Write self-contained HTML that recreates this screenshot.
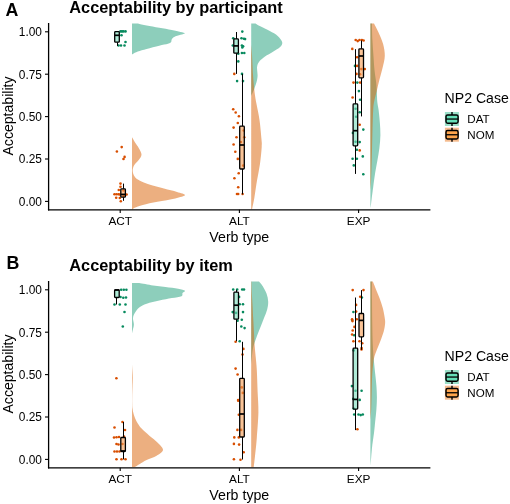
<!DOCTYPE html><html><head><meta charset="utf-8"><style>html,body{margin:0;padding:0;background:#fff;width:510px;height:504px;overflow:hidden}svg{display:block;filter:blur(0.35px)}</style></head><body>
<svg width="510" height="504" viewBox="0 0 510 504" font-family='"Liberation Sans", sans-serif' fill="#000">
<rect width="510" height="504" fill="#fff"/>
<path d="M132.00,23.45 L138.00,23.45 C139.43,23.81 143.07,24.88 146.60,25.60 C150.13,26.33 155.02,27.07 159.20,27.80 C163.38,28.53 168.15,29.32 171.70,30.00 C175.25,30.68 178.28,31.37 180.50,31.90 C182.72,32.43 185.00,32.72 185.00,33.20 C185.00,33.68 182.30,34.18 180.50,34.80 C178.70,35.42 175.67,36.13 174.20,36.90 C172.73,37.67 172.22,38.55 171.70,39.40 C171.18,40.25 171.72,41.27 171.10,42.00 C170.48,42.73 169.98,43.18 168.00,43.80 C166.02,44.42 162.77,44.85 159.20,45.70 C155.63,46.55 150.17,47.95 146.60,48.90 C143.03,49.85 140.10,50.57 137.80,51.40 C135.50,52.23 133.77,53.37 132.80,53.90 C131.83,54.43 132.13,54.48 132.00,54.60 L132.00,54.60 Z" fill="rgba(27,158,119,0.5)"/>
<path d="M251.20,23.45 L255.50,23.45 C256.30,23.93 257.92,25.02 260.30,26.30 C262.68,27.58 266.90,29.50 269.80,31.10 C272.70,32.70 275.63,34.05 277.70,35.90 C279.77,37.75 281.80,40.35 282.20,42.20 C282.60,44.05 281.63,45.42 280.10,47.00 C278.57,48.58 275.52,50.12 273.00,51.70 C270.48,53.28 267.25,54.90 265.00,56.50 C262.75,58.10 260.80,59.72 259.50,61.30 C258.20,62.88 257.58,64.42 257.20,66.00 C256.82,67.58 257.13,69.20 257.20,70.80 C257.27,72.40 257.63,74.02 257.60,75.60 C257.57,77.18 257.33,78.72 257.00,80.30 C256.67,81.88 256.05,83.70 255.60,85.10 C255.15,86.50 254.78,87.47 254.30,88.70 C253.82,89.93 253.22,91.33 252.70,92.50 C252.18,93.67 251.45,95.17 251.20,95.70 L251.20,95.70 Z" fill="rgba(27,158,119,0.5)"/>
<path d="M370.40,23.45 L371.90,23.45 C371.98,26.21 372.15,34.74 372.40,40.00 C372.65,45.26 373.05,50.00 373.40,55.00 C373.75,60.00 374.05,65.50 374.50,70.00 C374.95,74.50 375.72,78.50 376.10,82.00 C376.48,85.50 376.60,87.67 376.80,91.00 C377.00,94.33 377.00,98.83 377.30,102.00 C377.60,105.17 378.18,106.67 378.60,110.00 C379.02,113.33 379.50,117.83 379.80,122.00 C380.10,126.17 380.47,130.67 380.40,135.00 C380.33,139.33 379.90,143.73 379.40,148.00 C378.90,152.27 378.12,156.40 377.40,160.60 C376.68,164.80 375.80,168.82 375.10,173.20 C374.40,177.58 373.78,182.57 373.20,186.90 C372.62,191.23 372.02,195.92 371.60,199.20 C371.18,202.48 370.90,205.22 370.70,206.60 C370.50,207.98 370.45,207.35 370.40,207.50 L370.40,207.50 Z" fill="rgba(27,158,119,0.5)"/>
<path d="M132.00,137.30 L132.00,137.30 C132.57,138.25 134.28,141.23 135.40,143.00 C136.52,144.77 137.68,146.00 138.70,147.90 C139.72,149.80 141.50,152.37 141.50,154.40 C141.50,156.43 139.90,158.33 138.70,160.10 C137.50,161.87 135.30,163.23 134.30,165.00 C133.30,166.77 132.65,168.80 132.70,170.70 C132.75,172.60 133.47,174.77 134.60,176.40 C135.73,178.03 137.05,179.13 139.50,180.50 C141.95,181.87 145.23,183.25 149.30,184.60 C153.37,185.95 159.28,187.38 163.90,188.60 C168.52,189.82 173.47,190.82 177.00,191.90 C180.53,192.98 185.38,194.02 185.10,195.10 C184.82,196.18 179.92,197.30 175.30,198.40 C170.68,199.50 162.82,200.62 157.40,201.70 C151.98,202.78 146.60,203.88 142.80,204.90 C139.00,205.92 136.27,207.08 134.60,207.80 C132.93,208.52 133.10,208.97 132.80,209.20 L132.00,209.20 Z" fill="rgba(217,95,2,0.5)"/>
<path d="M251.20,45.00 L251.20,45.00 C251.33,46.67 251.70,50.03 252.00,55.00 C252.30,59.97 252.63,69.18 253.00,74.80 C253.37,80.42 253.83,85.05 254.20,88.70 C254.57,92.35 254.78,93.98 255.20,96.70 C255.62,99.42 255.98,101.12 256.70,105.00 C257.42,108.88 258.70,114.27 259.50,120.00 C260.30,125.73 261.13,134.90 261.50,139.40 C261.87,143.90 261.95,142.95 261.70,147.00 C261.45,151.05 260.78,158.10 260.00,163.70 C259.22,169.30 257.93,174.97 257.00,180.60 C256.07,186.23 255.20,192.87 254.40,197.50 C253.60,202.13 252.60,206.45 252.20,208.40 C251.80,210.35 252.03,209.07 252.00,209.20 L251.20,209.20 Z" fill="rgba(217,95,2,0.5)"/>
<path d="M370.40,23.45 L374.00,23.45 C374.72,24.86 376.78,28.49 378.30,31.90 C379.82,35.31 382.02,39.92 383.10,43.90 C384.18,47.88 384.88,51.83 384.80,55.80 C384.72,59.77 383.50,63.72 382.60,67.70 C381.70,71.68 380.37,75.87 379.40,79.70 C378.43,83.53 377.68,87.02 376.80,90.70 C375.92,94.38 374.70,98.58 374.10,101.80 C373.50,105.02 373.45,106.13 373.20,110.00 C372.95,113.87 372.80,118.33 372.60,125.00 C372.40,131.67 372.20,142.50 372.00,150.00 C371.80,157.50 371.57,164.67 371.40,170.00 C371.23,175.33 371.17,178.67 371.00,182.00 C370.83,185.33 370.50,188.67 370.40,190.00 L370.40,190.00 Z" fill="rgba(217,95,2,0.5)"/>
<g fill="#078a5e"><circle cx="120.5" cy="31.4" r="1.3"/><circle cx="122" cy="31.4" r="1.3"/><circle cx="123.5" cy="31.4" r="1.3"/><circle cx="125.5" cy="31.4" r="1.3"/><circle cx="121.5" cy="35.3" r="1.3"/><circle cx="125.5" cy="42" r="1.3"/><circle cx="118.5" cy="45.5" r="1.3"/><circle cx="121" cy="45.5" r="1.3"/><circle cx="124.5" cy="45.5" r="1.3"/><circle cx="242.3" cy="31.6" r="1.3"/><circle cx="241.5" cy="38.3" r="1.3"/><circle cx="243.9" cy="38.7" r="1.3"/><circle cx="245.1" cy="39.1" r="1.3"/><circle cx="233.2" cy="38.3" r="1.3"/><circle cx="241.9" cy="45.5" r="1.3"/><circle cx="243.1" cy="46.3" r="1.3"/><circle cx="242.3" cy="47.5" r="1.3"/><circle cx="232.8" cy="45.5" r="1.3"/><circle cx="241.9" cy="53" r="1.3"/><circle cx="244.3" cy="53" r="1.3"/><circle cx="238.3" cy="53.8" r="1.3"/><circle cx="238.3" cy="61.4" r="1.3"/><circle cx="242" cy="73.9" r="1.3"/><circle cx="237.1" cy="81.1" r="1.3"/><circle cx="243" cy="81.1" r="1.3"/><circle cx="355" cy="65.9" r="1.3"/><circle cx="357.3" cy="82.6" r="1.3"/><circle cx="358.9" cy="91.1" r="1.3"/><circle cx="360.1" cy="99.8" r="1.3"/><circle cx="359.7" cy="112.3" r="1.3"/><circle cx="355.6" cy="108.8" r="1.3"/><circle cx="356.1" cy="116.8" r="1.3"/><circle cx="363.3" cy="129.6" r="1.3"/><circle cx="352.9" cy="132.9" r="1.3"/><circle cx="359.7" cy="142.1" r="1.3"/><circle cx="355.6" cy="141.8" r="1.3"/><circle cx="356.9" cy="149.8" r="1.3"/><circle cx="352.6" cy="158.8" r="1.3"/><circle cx="356.9" cy="158.8" r="1.3"/><circle cx="362.8" cy="156.4" r="1.3"/><circle cx="353.8" cy="165.4" r="1.3"/><circle cx="363.3" cy="174.3" r="1.3"/></g>
<g fill="#d84e00"><circle cx="121.7" cy="147.1" r="1.3"/><circle cx="116.9" cy="151.5" r="1.3"/><circle cx="124.6" cy="156.9" r="1.3"/><circle cx="123.5" cy="159" r="1.3"/><circle cx="120.5" cy="183.6" r="1.3"/><circle cx="120.5" cy="186.8" r="1.3"/><circle cx="118.8" cy="190" r="1.3"/><circle cx="114.5" cy="194.2" r="1.3"/><circle cx="116.5" cy="194.2" r="1.3"/><circle cx="118.5" cy="194.2" r="1.3"/><circle cx="119.8" cy="194.5" r="1.3"/><circle cx="116.2" cy="197.8" r="1.3"/><circle cx="119.8" cy="198" r="1.3"/><circle cx="120.8" cy="201.3" r="1.3"/><circle cx="126.6" cy="194.5" r="1.3"/><circle cx="123.5" cy="190.5" r="1.3"/><circle cx="123.5" cy="196" r="1.3"/><circle cx="234.3" cy="73.9" r="1.3"/><circle cx="233.2" cy="109.3" r="1.3"/><circle cx="235.7" cy="112.5" r="1.3"/><circle cx="238.9" cy="116.3" r="1.3"/><circle cx="237.8" cy="123" r="1.3"/><circle cx="233.6" cy="127.6" r="1.3"/><circle cx="243.7" cy="130.5" r="1.3"/><circle cx="236.5" cy="137.2" r="1.3"/><circle cx="244.2" cy="137.2" r="1.3"/><circle cx="240.9" cy="142" r="1.3"/><circle cx="233.6" cy="144.5" r="1.3"/><circle cx="235.3" cy="151.8" r="1.3"/><circle cx="237.8" cy="158.9" r="1.3"/><circle cx="243.2" cy="165.6" r="1.3"/><circle cx="238.7" cy="173.2" r="1.3"/><circle cx="234.4" cy="178.3" r="1.3"/><circle cx="238.2" cy="187.2" r="1.3"/><circle cx="237" cy="194" r="1.3"/><circle cx="238.2" cy="194" r="1.3"/><circle cx="242.6" cy="194" r="1.3"/><circle cx="355.7" cy="40" r="1.3"/><circle cx="357.7" cy="41.1" r="1.3"/><circle cx="359.5" cy="40" r="1.3"/><circle cx="361.9" cy="40" r="1.3"/><circle cx="363.6" cy="40.5" r="1.3"/><circle cx="352.3" cy="48.9" r="1.3"/><circle cx="357.1" cy="57.2" r="1.3"/><circle cx="357.1" cy="65.9" r="1.3"/><circle cx="361.3" cy="69.1" r="1.3"/><circle cx="364.8" cy="69.1" r="1.3"/><circle cx="356.5" cy="73.9" r="1.3"/><circle cx="360.1" cy="74.2" r="1.3"/><circle cx="353.5" cy="82.6" r="1.3"/><circle cx="360.1" cy="82.6" r="1.3"/><circle cx="352.6" cy="97.5" r="1.3"/><circle cx="359.7" cy="124.8" r="1.3"/><circle cx="359.7" cy="150.4" r="1.3"/></g>
<line x1="117.5" y1="31.6" x2="117.5" y2="31.6" stroke="#000" stroke-width="1.05"/><line x1="117.5" y1="42.2" x2="117.5" y2="45.9" stroke="#000" stroke-width="1.05"/><rect x="114.70" y="31.60" width="4.6" height="10.60" rx="0.8" fill="rgba(121,222,188,0.6)" stroke="#000" stroke-width="1.3"/><line x1="114.70" y1="35.3" x2="119.30" y2="35.3" stroke="#000" stroke-width="1.7"/>
<line x1="123.5" y1="183.6" x2="123.5" y2="188.8" stroke="#000" stroke-width="1.05"/><line x1="123.5" y1="197.2" x2="123.5" y2="200.8" stroke="#000" stroke-width="1.05"/><rect x="120.80" y="188.80" width="4.6" height="8.40" rx="0.8" fill="rgba(247,155,80,0.6)" stroke="#000" stroke-width="1.3"/><line x1="120.80" y1="194.4" x2="125.40" y2="194.4" stroke="#000" stroke-width="1.7"/>
<line x1="236.5" y1="32.0" x2="236.5" y2="38.9" stroke="#000" stroke-width="1.05"/><line x1="236.5" y1="53.2" x2="236.5" y2="73.9" stroke="#000" stroke-width="1.05"/><rect x="233.80" y="38.90" width="4.6" height="14.30" rx="0.8" fill="rgba(121,222,188,0.6)" stroke="#000" stroke-width="1.3"/><line x1="233.80" y1="45.9" x2="238.40" y2="45.9" stroke="#000" stroke-width="1.7"/>
<line x1="242.5" y1="73.9" x2="242.5" y2="126.1" stroke="#000" stroke-width="1.05"/><line x1="242.5" y1="169.0" x2="242.5" y2="194.3" stroke="#000" stroke-width="1.05"/><rect x="239.70" y="126.10" width="4.6" height="42.90" rx="0.8" fill="rgba(247,155,80,0.6)" stroke="#000" stroke-width="1.3"/><line x1="239.70" y1="145.0" x2="244.30" y2="145.0" stroke="#000" stroke-width="1.7"/>
<line x1="355.5" y1="49.2" x2="355.5" y2="103.9" stroke="#000" stroke-width="1.05"/><line x1="355.5" y1="145.8" x2="355.5" y2="173.9" stroke="#000" stroke-width="1.05"/><rect x="353.10" y="103.90" width="4.6" height="41.90" rx="0.8" fill="rgba(121,222,188,0.6)" stroke="#000" stroke-width="1.3"/><line x1="353.10" y1="130.7" x2="357.70" y2="130.7" stroke="#000" stroke-width="1.7"/>
<line x1="361.5" y1="40.5" x2="361.5" y2="48.8" stroke="#000" stroke-width="1.05"/><line x1="361.5" y1="77.8" x2="361.5" y2="116.4" stroke="#000" stroke-width="1.05"/><rect x="358.90" y="48.80" width="4.6" height="29.00" rx="0.8" fill="rgba(247,155,80,0.6)" stroke="#000" stroke-width="1.3"/><line x1="358.90" y1="56.0" x2="363.50" y2="56.0" stroke="#000" stroke-width="1.7"/>
<line x1="48.6" y1="23.0" x2="48.6" y2="210.45" stroke="#000" stroke-width="1.3"/>
<line x1="47.95" y1="209.8" x2="430.4" y2="209.8" stroke="#000" stroke-width="1.3"/>
<text x="5.6" y="15.6" font-size="17.8" font-weight="bold">A</text><text x="69.3" y="13.2" font-size="16.35" font-weight="bold">Acceptability by participant</text><text x="42" y="36.10" font-size="11.9" text-anchor="end">1.00</text><line x1="45" y1="31.80" x2="48.5" y2="31.80" stroke="#000" stroke-width="1.1"/><text x="42" y="78.50" font-size="11.9" text-anchor="end">0.75</text><line x1="45" y1="74.20" x2="48.5" y2="74.20" stroke="#000" stroke-width="1.1"/><text x="42" y="120.90" font-size="11.9" text-anchor="end">0.50</text><line x1="45" y1="116.60" x2="48.5" y2="116.60" stroke="#000" stroke-width="1.1"/><text x="42" y="163.30" font-size="11.9" text-anchor="end">0.25</text><line x1="45" y1="159.00" x2="48.5" y2="159.00" stroke="#000" stroke-width="1.1"/><text x="42" y="205.70" font-size="11.9" text-anchor="end">0.00</text><line x1="45" y1="201.40" x2="48.5" y2="201.40" stroke="#000" stroke-width="1.1"/><line x1="120.2" y1="209.7" x2="120.2" y2="213.0" stroke="#000" stroke-width="1.1"/><text x="120.2" y="225.2" font-size="11.8" text-anchor="middle">ACT</text><line x1="239.4" y1="209.7" x2="239.4" y2="213.0" stroke="#000" stroke-width="1.1"/><text x="239.4" y="225.2" font-size="11.8" text-anchor="middle">ALT</text><line x1="358.6" y1="209.7" x2="358.6" y2="213.0" stroke="#000" stroke-width="1.1"/><text x="358.6" y="225.2" font-size="11.8" text-anchor="middle">EXP</text><text x="239.3" y="242.0" font-size="14.2" text-anchor="middle">Verb type</text><text transform="translate(12.6,116.0) rotate(-90)" font-size="14.1" text-anchor="middle">Acceptability</text><text x="444.6" y="103.0" font-size="14.1">NP2 Case</text><rect x="444.9" y="112.00" width="14.0" height="14.0" fill="#9adfc8"/><line x1="452" y1="112.00" x2="452" y2="126.00" stroke="#000" stroke-width="1.4"/><rect x="446.0" y="114.90" width="12.1" height="8.3" rx="1.6" fill="#66e0b8" stroke="#000" stroke-width="1.5"/><line x1="446.0" y1="119.05" x2="458.1" y2="119.05" stroke="#000" stroke-width="1.3"/><text x="467.3" y="123.20" font-size="11.6">DAT</text><rect x="444.9" y="127.70" width="14.0" height="14.0" fill="#f5bc8f"/><line x1="452" y1="127.70" x2="452" y2="141.70" stroke="#000" stroke-width="1.4"/><rect x="446.0" y="130.60" width="12.1" height="8.3" rx="1.6" fill="#ffa54d" stroke="#000" stroke-width="1.5"/><line x1="446.0" y1="134.75" x2="458.1" y2="134.75" stroke="#000" stroke-width="1.3"/><text x="467.3" y="138.90" font-size="11.6">NOM</text>
<path d="M132.00,283.10 L139.20,283.10 C141.50,283.50 148.62,284.85 153.00,285.50 C157.38,286.15 161.32,286.47 165.50,287.00 C169.68,287.53 174.85,288.07 178.10,288.70 C181.35,289.33 184.27,290.07 185.00,290.80 C185.73,291.53 183.08,292.20 182.50,293.10 C181.92,294.00 183.28,295.37 181.50,296.20 C179.72,297.03 175.50,297.37 171.80,298.10 C168.10,298.83 163.48,299.67 159.30,300.60 C155.12,301.53 150.05,302.55 146.70,303.70 C143.35,304.85 141.18,305.93 139.20,307.50 C137.22,309.07 135.83,311.32 134.80,313.10 C133.77,314.88 133.15,316.32 133.00,318.20 C132.85,320.08 133.92,322.53 133.90,324.40 C133.88,326.27 133.22,327.93 132.90,329.40 C132.58,330.87 132.15,332.57 132.00,333.20 L132.00,333.20 Z" fill="rgba(27,158,119,0.5)"/>
<path d="M251.20,281.50 L259.00,281.50 C259.60,282.23 261.33,283.85 262.60,285.90 C263.87,287.95 265.67,291.15 266.60,293.80 C267.53,296.45 268.12,299.15 268.20,301.80 C268.28,304.45 267.77,307.07 267.10,309.70 C266.43,312.33 265.20,314.97 264.20,317.60 C263.20,320.23 262.15,322.85 261.10,325.50 C260.05,328.15 258.92,330.85 257.90,333.50 C256.88,336.15 255.73,339.30 255.00,341.40 C254.27,343.50 253.93,344.33 253.50,346.10 C253.07,347.87 252.68,350.02 252.40,352.00 C252.12,353.98 252.00,355.92 251.80,358.00 C251.60,360.08 251.30,363.42 251.20,364.50 L251.20,364.50 Z" fill="rgba(27,158,119,0.5)"/>
<path d="M370.40,281.60 L371.90,281.60 C371.92,284.67 371.95,293.60 372.00,300.00 C372.05,306.40 372.10,313.33 372.20,320.00 C372.30,326.67 372.43,334.67 372.60,340.00 C372.77,345.33 372.97,348.35 373.20,352.00 C373.43,355.65 373.67,358.27 374.00,361.90 C374.33,365.53 374.80,369.85 375.20,373.80 C375.60,377.75 376.12,381.65 376.40,385.60 C376.68,389.55 376.90,393.53 376.90,397.50 C376.90,401.47 376.68,405.43 376.40,409.40 C376.12,413.37 375.60,417.35 375.20,421.30 C374.80,425.25 374.48,429.15 374.00,433.10 C373.52,437.05 372.77,441.03 372.30,445.00 C371.83,448.97 371.52,453.40 371.20,456.90 C370.88,460.40 370.53,464.48 370.40,466.00 L370.40,466.00 Z" fill="rgba(27,158,119,0.5)"/>
<path d="M132.00,364.50 L132.00,364.50 C132.08,365.75 132.37,369.75 132.50,372.00 C132.63,374.25 132.80,375.67 132.80,378.00 C132.80,380.33 132.60,383.17 132.50,386.00 C132.40,388.83 132.25,392.00 132.20,395.00 C132.15,398.00 132.15,401.73 132.20,404.00 C132.25,406.27 132.25,406.88 132.50,408.60 C132.75,410.32 133.02,412.17 133.70,414.30 C134.38,416.43 135.28,419.02 136.60,421.40 C137.92,423.78 139.47,426.22 141.60,428.60 C143.73,430.98 146.67,433.32 149.40,435.70 C152.13,438.08 155.73,440.52 158.00,442.90 C160.27,445.28 163.23,447.87 163.00,450.00 C162.77,452.13 159.33,454.03 156.60,455.70 C153.87,457.37 149.47,458.57 146.60,460.00 C143.73,461.43 141.33,463.12 139.40,464.30 C137.47,465.48 135.73,466.63 135.00,467.10 L132.00,467.10 Z" fill="rgba(217,95,2,0.5)"/>
<path d="M251.20,281.50 L251.50,281.50 C251.55,283.25 251.63,288.08 251.80,292.00 C251.97,295.92 252.25,300.33 252.50,305.00 C252.75,309.67 253.03,315.00 253.30,320.00 C253.57,325.00 253.88,330.80 254.10,335.00 C254.32,339.20 254.33,341.53 254.60,345.20 C254.87,348.87 255.33,352.87 255.70,357.00 C256.07,361.13 256.48,364.23 256.80,370.00 C257.12,375.77 257.33,384.55 257.60,391.60 C257.87,398.65 258.53,404.57 258.40,412.30 C258.27,420.03 257.37,430.72 256.80,438.00 C256.23,445.28 255.52,451.13 255.00,456.00 C254.48,460.87 253.92,465.33 253.70,467.20 L251.20,467.20 Z" fill="rgba(217,95,2,0.5)"/>
<path d="M370.40,281.60 L372.80,281.60 C373.23,282.65 374.30,285.20 375.40,287.90 C376.50,290.60 378.18,294.48 379.40,297.80 C380.62,301.12 381.82,304.48 382.70,307.80 C383.58,311.12 384.30,315.07 384.70,317.70 C385.10,320.33 385.27,321.28 385.10,323.60 C384.93,325.92 384.52,328.62 383.70,331.60 C382.88,334.58 381.45,338.20 380.20,341.50 C378.95,344.80 377.20,348.75 376.20,351.40 C375.20,354.05 374.70,355.42 374.20,357.40 C373.70,359.38 373.53,360.37 373.20,363.30 C372.87,366.23 372.45,370.55 372.20,375.00 C371.95,379.45 371.87,384.33 371.70,390.00 C371.53,395.67 371.42,404.00 371.20,409.00 C370.98,414.00 370.53,418.17 370.40,420.00 L370.40,420.00 Z" fill="rgba(217,95,2,0.5)"/>
<g fill="#078a5e"><circle cx="121.2" cy="289.7" r="1.3"/><circle cx="123.8" cy="289.7" r="1.3"/><circle cx="126.4" cy="289.8" r="1.3"/><circle cx="120.5" cy="297" r="1.3"/><circle cx="123.3" cy="297.8" r="1.3"/><circle cx="126" cy="297.5" r="1.3"/><circle cx="114.5" cy="304.5" r="1.3"/><circle cx="119.8" cy="304.5" r="1.3"/><circle cx="125.5" cy="304.5" r="1.3"/><circle cx="124.5" cy="312" r="1.3"/><circle cx="122.8" cy="326.5" r="1.3"/><circle cx="233.2" cy="289.5" r="1.3"/><circle cx="237.2" cy="289.5" r="1.3"/><circle cx="242.2" cy="289.5" r="1.3"/><circle cx="244" cy="289.5" r="1.3"/><circle cx="239.1" cy="296.9" r="1.3"/><circle cx="243" cy="304.3" r="1.3"/><circle cx="239.7" cy="304.3" r="1.3"/><circle cx="232.7" cy="312.1" r="1.3"/><circle cx="243" cy="312.1" r="1.3"/><circle cx="236" cy="312.9" r="1.3"/><circle cx="241.8" cy="319.7" r="1.3"/><circle cx="237.6" cy="320.7" r="1.3"/><circle cx="241.3" cy="326.5" r="1.3"/><circle cx="244.6" cy="328.1" r="1.3"/><circle cx="239.7" cy="341.2" r="1.3"/><circle cx="361.9" cy="297.5" r="1.3"/><circle cx="353.4" cy="312" r="1.3"/><circle cx="352.1" cy="320.1" r="1.3"/><circle cx="354.1" cy="335.2" r="1.3"/><circle cx="353.7" cy="350.4" r="1.3"/><circle cx="351.9" cy="386.1" r="1.3"/><circle cx="355.5" cy="390.7" r="1.3"/><circle cx="361.6" cy="390.7" r="1.3"/><circle cx="353.3" cy="398.9" r="1.3"/><circle cx="359.7" cy="399.9" r="1.3"/><circle cx="353.7" cy="408.5" r="1.3"/><circle cx="354.2" cy="414.5" r="1.3"/><circle cx="358.5" cy="414.5" r="1.3"/><circle cx="360.7" cy="415.1" r="1.3"/><circle cx="362.8" cy="414.5" r="1.3"/></g>
<g fill="#d84e00"><circle cx="116.4" cy="378.3" r="1.3"/><circle cx="122.5" cy="422" r="1.3"/><circle cx="114.5" cy="427.5" r="1.3"/><circle cx="125" cy="430" r="1.3"/><circle cx="114" cy="437.5" r="1.3"/><circle cx="116.5" cy="437.3" r="1.3"/><circle cx="119" cy="437" r="1.3"/><circle cx="124" cy="436.5" r="1.3"/><circle cx="116.5" cy="444" r="1.3"/><circle cx="118.5" cy="444.5" r="1.3"/><circle cx="122.5" cy="444" r="1.3"/><circle cx="114.5" cy="451.5" r="1.3"/><circle cx="117" cy="451.5" r="1.3"/><circle cx="119.5" cy="451.5" r="1.3"/><circle cx="116.5" cy="459.3" r="1.3"/><circle cx="121.5" cy="459.3" r="1.3"/><circle cx="125.5" cy="459.3" r="1.3"/><circle cx="235.6" cy="341.8" r="1.3"/><circle cx="243.4" cy="348.9" r="1.3"/><circle cx="242.5" cy="354.5" r="1.3"/><circle cx="235.6" cy="368.6" r="1.3"/><circle cx="237.6" cy="374.5" r="1.3"/><circle cx="241.8" cy="387.4" r="1.3"/><circle cx="242.8" cy="392.9" r="1.3"/><circle cx="238.1" cy="400" r="1.3"/><circle cx="238.2" cy="400.7" r="1.3"/><circle cx="238.8" cy="414.7" r="1.3"/><circle cx="237.4" cy="429.9" r="1.3"/><circle cx="241.1" cy="429.9" r="1.3"/><circle cx="234.3" cy="437.4" r="1.3"/><circle cx="238.8" cy="437.4" r="1.3"/><circle cx="233.9" cy="443.9" r="1.3"/><circle cx="239.1" cy="444.6" r="1.3"/><circle cx="243.7" cy="452.2" r="1.3"/><circle cx="233.9" cy="459.3" r="1.3"/><circle cx="240.5" cy="459.7" r="1.3"/><circle cx="352.7" cy="290.1" r="1.3"/><circle cx="363.5" cy="290.1" r="1.3"/><circle cx="360.2" cy="296.8" r="1.3"/><circle cx="356.1" cy="304.9" r="1.3"/><circle cx="356.1" cy="311.6" r="1.3"/><circle cx="352.1" cy="319.3" r="1.3"/><circle cx="356.8" cy="319.3" r="1.3"/><circle cx="352.5" cy="321.1" r="1.3"/><circle cx="354.4" cy="326.9" r="1.3"/><circle cx="352.7" cy="330.5" r="1.3"/><circle cx="352.1" cy="334.5" r="1.3"/><circle cx="353.4" cy="341.3" r="1.3"/><circle cx="359.5" cy="341.3" r="1.3"/><circle cx="362.2" cy="343.3" r="1.3"/><circle cx="361.5" cy="349.4" r="1.3"/><circle cx="361.6" cy="348" r="1.3"/><circle cx="357.4" cy="429.2" r="1.3"/></g>
<line x1="116.5" y1="289.8" x2="116.5" y2="289.8" stroke="#000" stroke-width="1.05"/><line x1="116.5" y1="297.5" x2="116.5" y2="304.5" stroke="#000" stroke-width="1.05"/><rect x="114.60" y="289.80" width="4.6" height="7.70" rx="0.8" fill="rgba(121,222,188,0.6)" stroke="#000" stroke-width="1.3"/><line x1="114.60" y1="290.0" x2="119.20" y2="290.0" stroke="#000" stroke-width="1.7"/>
<line x1="123.5" y1="422.0" x2="123.5" y2="437.5" stroke="#000" stroke-width="1.05"/><line x1="123.5" y1="451.5" x2="123.5" y2="459.4" stroke="#000" stroke-width="1.05"/><rect x="120.80" y="437.50" width="4.6" height="14.00" rx="0.8" fill="rgba(247,155,80,0.6)" stroke="#000" stroke-width="1.3"/><line x1="120.80" y1="451.0" x2="125.40" y2="451.0" stroke="#000" stroke-width="1.7"/>
<line x1="236.5" y1="289.8" x2="236.5" y2="292.1" stroke="#000" stroke-width="1.05"/><line x1="236.5" y1="319.2" x2="236.5" y2="341.2" stroke="#000" stroke-width="1.05"/><rect x="233.90" y="292.10" width="4.6" height="27.10" rx="0.8" fill="rgba(121,222,188,0.6)" stroke="#000" stroke-width="1.3"/><line x1="233.90" y1="305.2" x2="238.50" y2="305.2" stroke="#000" stroke-width="1.7"/>
<line x1="242.5" y1="341.8" x2="242.5" y2="378.4" stroke="#000" stroke-width="1.05"/><line x1="242.5" y1="437.0" x2="242.5" y2="459.5" stroke="#000" stroke-width="1.05"/><rect x="239.70" y="378.40" width="4.6" height="58.60" rx="0.8" fill="rgba(247,155,80,0.6)" stroke="#000" stroke-width="1.3"/><line x1="239.70" y1="414.0" x2="244.30" y2="414.0" stroke="#000" stroke-width="1.7"/>
<line x1="355.5" y1="297.5" x2="355.5" y2="348.2" stroke="#000" stroke-width="1.05"/><line x1="355.5" y1="409.1" x2="355.5" y2="430.1" stroke="#000" stroke-width="1.05"/><rect x="353.10" y="348.20" width="4.6" height="60.90" rx="0.8" fill="rgba(121,222,188,0.6)" stroke="#000" stroke-width="1.3"/><line x1="353.10" y1="399.4" x2="357.70" y2="399.4" stroke="#000" stroke-width="1.7"/>
<line x1="361.5" y1="290.1" x2="361.5" y2="313.5" stroke="#000" stroke-width="1.05"/><line x1="361.5" y1="336.8" x2="361.5" y2="349.8" stroke="#000" stroke-width="1.05"/><rect x="359.00" y="313.50" width="4.6" height="23.30" rx="0.8" fill="rgba(247,155,80,0.6)" stroke="#000" stroke-width="1.3"/><line x1="359.00" y1="320.4" x2="363.60" y2="320.4" stroke="#000" stroke-width="1.7"/>
<line x1="48.6" y1="281.0" x2="48.6" y2="468.45" stroke="#000" stroke-width="1.3"/>
<line x1="47.95" y1="467.8" x2="430.4" y2="467.8" stroke="#000" stroke-width="1.3"/>
<text x="6.5" y="268.9" font-size="17.8" font-weight="bold">B</text><text x="69.3" y="271.2" font-size="16.35" font-weight="bold">Acceptability by item</text><text x="42" y="294.10" font-size="11.9" text-anchor="end">1.00</text><line x1="45" y1="289.80" x2="48.5" y2="289.80" stroke="#000" stroke-width="1.1"/><text x="42" y="336.50" font-size="11.9" text-anchor="end">0.75</text><line x1="45" y1="332.20" x2="48.5" y2="332.20" stroke="#000" stroke-width="1.1"/><text x="42" y="378.90" font-size="11.9" text-anchor="end">0.50</text><line x1="45" y1="374.60" x2="48.5" y2="374.60" stroke="#000" stroke-width="1.1"/><text x="42" y="421.30" font-size="11.9" text-anchor="end">0.25</text><line x1="45" y1="417.00" x2="48.5" y2="417.00" stroke="#000" stroke-width="1.1"/><text x="42" y="463.70" font-size="11.9" text-anchor="end">0.00</text><line x1="45" y1="459.40" x2="48.5" y2="459.40" stroke="#000" stroke-width="1.1"/><line x1="120.2" y1="467.7" x2="120.2" y2="471.0" stroke="#000" stroke-width="1.1"/><text x="120.2" y="483.2" font-size="11.8" text-anchor="middle">ACT</text><line x1="239.4" y1="467.7" x2="239.4" y2="471.0" stroke="#000" stroke-width="1.1"/><text x="239.4" y="483.2" font-size="11.8" text-anchor="middle">ALT</text><line x1="358.6" y1="467.7" x2="358.6" y2="471.0" stroke="#000" stroke-width="1.1"/><text x="358.6" y="483.2" font-size="11.8" text-anchor="middle">EXP</text><text x="239.3" y="500.0" font-size="14.2" text-anchor="middle">Verb type</text><text transform="translate(12.6,374.0) rotate(-90)" font-size="14.1" text-anchor="middle">Acceptability</text><text x="444.6" y="361.0" font-size="14.1">NP2 Case</text><rect x="444.9" y="370.00" width="14.0" height="14.0" fill="#9adfc8"/><line x1="452" y1="370.00" x2="452" y2="384.00" stroke="#000" stroke-width="1.4"/><rect x="446.0" y="372.90" width="12.1" height="8.3" rx="1.6" fill="#66e0b8" stroke="#000" stroke-width="1.5"/><line x1="446.0" y1="377.05" x2="458.1" y2="377.05" stroke="#000" stroke-width="1.3"/><text x="467.3" y="381.20" font-size="11.6">DAT</text><rect x="444.9" y="385.70" width="14.0" height="14.0" fill="#f5bc8f"/><line x1="452" y1="385.70" x2="452" y2="399.70" stroke="#000" stroke-width="1.4"/><rect x="446.0" y="388.60" width="12.1" height="8.3" rx="1.6" fill="#ffa54d" stroke="#000" stroke-width="1.5"/><line x1="446.0" y1="392.75" x2="458.1" y2="392.75" stroke="#000" stroke-width="1.3"/><text x="467.3" y="396.90" font-size="11.6">NOM</text>
</svg></body></html>
